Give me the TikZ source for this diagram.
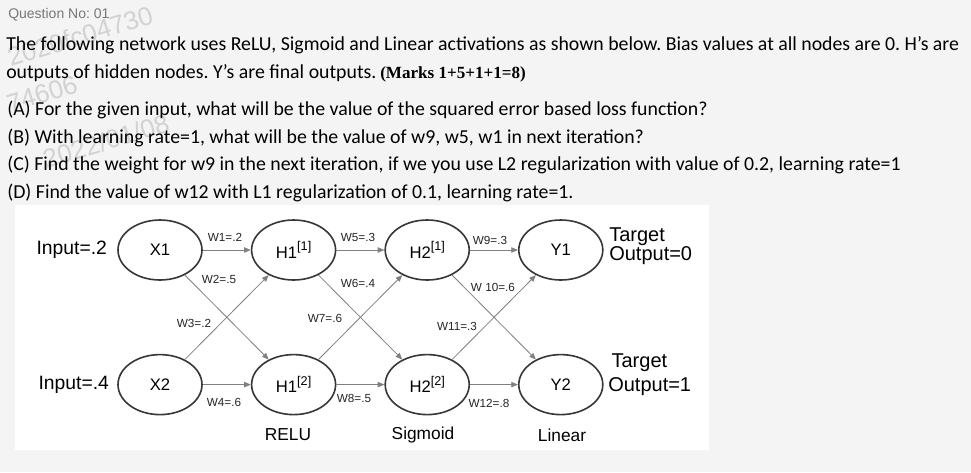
\documentclass[tikz,border=0pt]{standalone}
\usepackage{fontspec}
\setmainfont{Liberation Sans}
\newfontfamily\bodyfont{Carlito}
\newfontfamily\marksfont{Liberation Serif}
\usetikzlibrary{positioning,shapes.geometric,arrows.meta}
\definecolor{bgGray}{RGB}{244,244,244}
\definecolor{ptrGray}{RGB}{128,128,128}
\definecolor{rimGray}{RGB}{55,55,55}
\definecolor{markGray}{RGB}{210,210,210}
\definecolor{headGray}{RGB}{120,120,120}
\newcommand{\layer}[1]{\raisebox{5.5pt}{\fontsize{9.5}{10}\selectfont[#1]}}
\frenchspacing
\tikzset{
    neuron/.style={
        ellipse,
        draw=rimGray,
        line width=1.2pt,
        minimum width=63pt,
        minimum height=45pt,
        inner sep=0pt,
        font=\fontsize{12.5}{14}\selectfont
    },
    ptr/.style={
        -{Triangle[length=5pt,width=4pt]},
        draw=ptrGray,
        line width=0.6pt
    },
    wlabel/.style={font=\fontsize{8.8}{10}\selectfont, inner sep=0pt, text=black!85},
    qline/.style={anchor=base west, inner sep=0pt, font=\bodyfont\fontsize{14.85}{17}\selectfont},
    watermark/.style={rotate=17, inner sep=0pt, text=markGray, font=\fontsize{19.5}{20}\selectfont},
    sidelabel/.style={inner sep=0pt, font=\fontsize{14.5}{16}\selectfont},
    target/.style={inner sep=0pt, anchor=west, align=left},
    actlabel/.style={inner sep=0pt, font=\fontsize{13}{15}\selectfont}
}

\begin{document}
\begin{tikzpicture}[x=0.75pt, y=-0.75pt, node distance=54.75pt and 36pt]
    % page and white panel
    \fill[bgGray] (0,0) rectangle (971,472);
    \useasboundingbox (0,0) rectangle (971,472);
    \fill[white] (15,205) rectangle (709,450);

    % watermarks
    \node[watermark] (mark1) at (80,36) {2020fc04730};
    \node[watermark] (mark2) at (42,94) {74606};
    \node[watermark] (mark3) at (106,141) {2022/01/08};

    % question text
    \node[anchor=base west, inner sep=0pt, text=headGray, font=\fontsize{10.5}{12}\selectfont] (qno) at (8,18) {Question No: 01};
    \node[qline] (q1) at (6,50) {The following network uses ReLU, Sigmoid and Linear activations as shown below. Bias values at all nodes are 0. H’s are};
    \node[qline] (q2) at (6,78) {outputs of hidden nodes. Y’s are final outputs.};
    \node[anchor=base west, inner sep=0pt, font=\marksfont\bfseries\fontsize{12.8}{15}\selectfont] (marks) at (380,78) {(Marks 1+5+1+1=8)};
    \node[qline] (qA) at (7,115) {(A) For the given input, what will be the value of the squared error based loss function?};
    \node[qline] (qB) at (7,143) {(B) With learning rate=1, what will be the value of w9, w5, w1 in next iteration?};
    \node[qline] (qC) at (7,170) {(C) Find the weight for w9 in the next iteration, if we you use L2 regularization with value of 0.2, learning rate=1};
    \node[qline] (qD) at (7,198) {(D) Find the value of w12 with L1 regularization of 0.1, learning rate=1.};

    % network
    \node[neuron] (X1) at (160,250) {X1};
    \node[neuron, right=of X1] (H11) {H1\layer{1}};
    \node[neuron, right=of H11] (H21) {H2\layer{1}};
    \node[neuron, right=of H21] (Y1) {Y1};
    \node[neuron, below=of X1] (X2) {X2};
    \node[neuron, below=of H11] (H12) {H1\layer{2}};
    \node[neuron, below=of H21] (H22) {H2\layer{2}};
    \node[neuron, below=of Y1] (Y2) {Y2};

    \node[sidelabel, left=7.5pt of X1] (in1) {Input=.2};
    \node[sidelabel, left=6pt of X2] (in2) {Input=.4};
    \node[target, font=\fontsize{15}{13.5}\selectfont] (t1) at (609,246) {Target\\Output=0};
    \node[target, font=\fontsize{15}{18}\selectfont] (t2) at (608,375) {\,Target\\Output=1};

    \node[actlabel] (relu) at (288,435) {RELU};
    \node[actlabel] (sig) at (423,435) {Sigmoid};
    \node[actlabel] (lin) at (562,435) {Linear};

    \draw[ptr] (X1) -- (H11);
    \draw[ptr] (X1) -- (H12);
    \draw[ptr] (X2) -- (H11);
    \draw[ptr] (X2) -- (H12);
    \draw[ptr] (H11) -- (H21);
    \draw[ptr] (H11) -- (H22);
    \draw[ptr] (H12) -- (H21);
    \draw[ptr] (H12) -- (H22);
    \draw[ptr] (H21) -- (Y1);
    \draw[ptr] (H21) -- (Y2);
    \draw[ptr] (H22) -- (Y1);
    \draw[ptr] (H22) -- (Y2);

    % weights
    \node[wlabel] (w1) at (225,237) {W1=.2};
    \node[wlabel] (w2) at (219,279) {W2=.5};
    \node[wlabel] (w3) at (194,323) {W3=.2};
    \node[wlabel] (w4) at (224,402) {W4=.6};
    \node[wlabel] (w5) at (358,237) {W5=.3};
    \node[wlabel] (w6) at (358,283) {W6=.4};
    \node[wlabel] (w7) at (325,318) {W7=.6};
    \node[wlabel] (w8) at (354,398) {W8=.5};
    \node[wlabel] (w9) at (490,240) {W9=.3};
    \node[wlabel] (w10) at (493,287) {W 10=.6};
    \node[wlabel] (w11) at (457,326) {W11=.3};
    \node[wlabel] (w12) at (489,403) {W12=.8};
\end{tikzpicture}
\end{document}
